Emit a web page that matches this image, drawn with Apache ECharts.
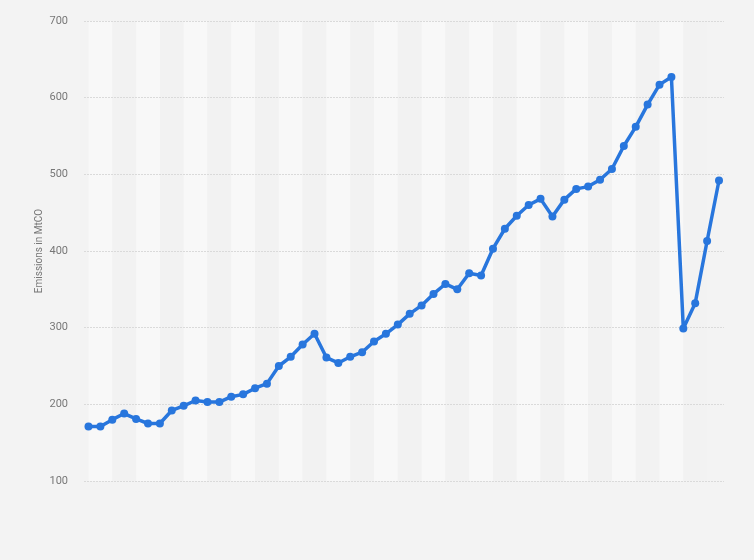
<!DOCTYPE html>
<html>
<head>
<meta charset="utf-8">
<script src="https://cdn.jsdelivr.net/npm/echarts@6/dist/echarts.min.js"></script>
<style>
  html, body { margin: 0; padding: 0; background: #f3f3f3; }
  #chart { width: 754px; height: 560px; }
</style>
</head>
<body>
<div id="chart"></div>
<script>
// years 1970-2023, labels hidden in the original
const years = [];
for (let y = 1970; y <= 2023; y++) years.push(String(y));

const emissions = [
  171, 171, 180, 188, 181, 175, 175, 192, 198, 205,
  203, 203, 210, 213, 221, 227, 250, 262, 278, 292,
  261, 254, 262, 268, 282, 292, 304, 318, 329, 344,
  357, 350, 371, 368, 403, 429, 446, 460, 468, 445,
  467, 481, 484, 493, 507, 537, 562, 591, 617, 627,
  299, 332, 413, 492
];

const yTicks = { min: 100, max: 700, step: 100 };
const yName = 'Emissions in MtCO';

const chart = echarts.init(document.getElementById('chart'));

const option = {
  backgroundColor: '#f3f3f3',
  animation: false,
  textStyle: { fontFamily: 'Roboto, "Liberation Sans", sans-serif' },
  grid: [
    // outer grid: carries the y labels and the dotted lines
    { left: 84, right: 30, top: 21, bottom: 79 },
    // inner grid: the series and the column bands
    { left: 88.5, right: 35, top: 21, bottom: 79 }
  ],
  xAxis: [
    {
      gridIndex: 0, type: 'category', data: years, show: false
    },
    {
      gridIndex: 1,
      type: 'category',
      data: years,
      boundaryGap: false,
      axisLine: { show: false },
      axisTick: { show: false, interval: 1 },
      axisLabel: { show: false, interval: 1 },
      splitLine: { show: false },
      splitArea: {
        show: true,
        interval: 1,
        areaStyle: { color: ['#f8f8f8', '#f2f2f2'] }
      }
    }
  ],
  yAxis: [
    {
      gridIndex: 0,
      type: 'value',
      min: yTicks.min,
      max: yTicks.max,
      interval: yTicks.step,
      name: yName,
      nameLocation: 'middle',
      nameGap: 40,
      nameMoveOverlap: false,
      nameTextStyle: { color: '#777', fontSize: 10 },
      axisLine: { show: false },
      axisTick: { show: false },
      axisLabel: { color: '#777', fontSize: 11, margin: 16 },
      splitLine: { lineStyle: { color: '#dadada', type: [2, 1], width: 1 } },
      z: 3
    },
    {
      gridIndex: 1,
      type: 'value',
      min: yTicks.min,
      max: yTicks.max,
      interval: yTicks.step,
      show: false,
      splitLine: { show: false }
    }
  ],
  series: [
    {
      type: 'line',
      xAxisIndex: 1,
      yAxisIndex: 1,
      data: emissions,
      symbol: 'circle',
      symbolSize: 8,
      showSymbol: true,
      showAllSymbol: true,
      lineStyle: { color: '#2876dd', width: 3.5 },
      itemStyle: { color: '#2876dd' },
      z: 5
    }
  ]
};

chart.setOption(option);
</script>
</body>
</html>
